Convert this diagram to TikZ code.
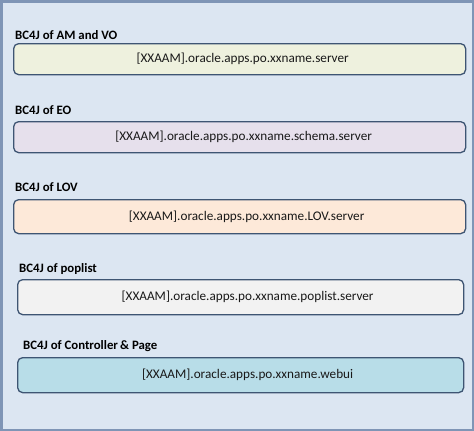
\documentclass[tikz,border=0pt]{standalone}
\usepackage{fontspec}
\setmainfont{Carlito}
\begin{document}
\begin{tikzpicture}[x=1pt,y=-1pt,
  frame/.style={draw=frameblue,line width=2.5pt,fill=bgblue},
  pkgbox/.style={draw=boxedge,line width=1.3pt,rounded corners=5pt,inner sep=0pt,anchor=north west},
  pkgtext/.style={font=\fontsize{13.2}{15}\selectfont,text=black!90},
  layerlabel/.style={font=\bfseries\fontsize{12.8}{15}\selectfont,anchor=west,inner sep=0pt,text=black}]
\definecolor{frameblue}{HTML}{7F95B6}
\definecolor{bgblue}{HTML}{DCE6F2}
\definecolor{boxedge}{HTML}{3E5573}
\definecolor{fillA}{HTML}{EEF1DE}
\definecolor{fillB}{HTML}{E6E0EC}
\definecolor{fillC}{HTML}{FDE9D9}
\definecolor{fillD}{HTML}{F2F2F2}
\definecolor{fillE}{HTML}{B8DDE8}
\useasboundingbox (0,0) rectangle (474,431);
\draw[frame] (1.25,1.25) rectangle (472.75,429.75);
% box 1
\node[layerlabel] (l1) at (15,35) {BC4J of AM and VO};
\node[pkgbox,fill=fillA,minimum width=452pt,minimum height=31pt] (b1) at (13,43) {};
\node[pkgtext] (t1) at ([xshift=3pt]b1.center) {[XXAAM].oracle.apps.po.xxname.server};
% box 2
\node[layerlabel] (l2) at (15,110) {BC4J of EO};
\node[pkgbox,fill=fillB,minimum width=452pt,minimum height=31pt] (b2) at (13,121) {};
\node[pkgtext] (t2) at ([xshift=4pt]b2.center) {[XXAAM].oracle.apps.po.xxname.schema.server};
% box 3
\node[layerlabel] (l3) at (15,187) {BC4J of LOV};
\node[pkgbox,fill=fillC,minimum width=452pt,minimum height=34pt] (b3) at (13,199) {};
\node[pkgtext] (t3) at ([xshift=7pt]b3.center) {[XXAAM].oracle.apps.po.xxname.LOV.server};
% box 4
\node[layerlabel] (l4) at (19,269) {BC4J of poplist};
\node[pkgbox,fill=fillD,minimum width=446pt,minimum height=35pt] (b4) at (17,279) {};
\node[pkgtext] (t4) at ([xshift=7pt]b4.center) {[XXAAM].oracle.apps.po.xxname.poplist.server};
% box 5
\node[layerlabel] (l5) at (23,346) {BC4J of Controller\,\& Page};
\node[pkgbox,fill=fillE,minimum width=446pt,minimum height=35pt] (b5) at (17,357) {};
\node[pkgtext] (t5) at ([xshift=7pt]b5.center) {[XXAAM].oracle.apps.po.xxname.webui};
\end{tikzpicture}
\end{document}
